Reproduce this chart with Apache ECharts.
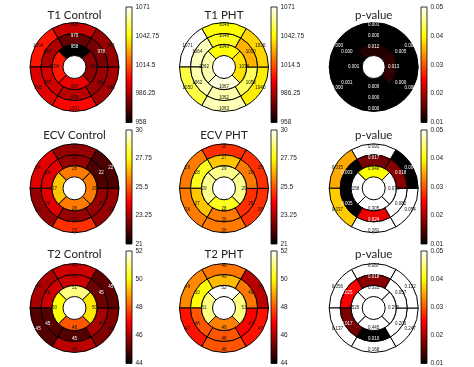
<!DOCTYPE html>
<html><head><meta charset="utf-8">
<script src="https://cdn.jsdelivr.net/npm/echarts@6/dist/echarts.min.js"></script>
<style>html,body{margin:0;padding:0;background:#fff}#c{width:474px;height:367px}</style>
</head><body><div id="c"></div>
<script>
// AHA 16-segment order:
// basal: anterior, anteroseptal, inferoseptal, inferior, inferolateral, anterolateral
// mid:   anterior, anteroseptal, inferoseptal, inferior, inferolateral, anterolateral
// apical: anterior, septal, inferior, lateral
const segNames = ['basal anterior','basal anteroseptal','basal inferoseptal','basal inferior','basal inferolateral','basal anterolateral',
  'mid anterior','mid anteroseptal','mid inferoseptal','mid inferior','mid inferolateral','mid anterolateral',
  'apical anterior','apical septal','apical inferior','apical lateral'];

const t1Control = [991, 1004, 995, 1001, 986, 983, 975, 987, 993, 989, 984, 978, 958, 1004, 997, 982];
const t1PHT     = [1043, 1071, 1050, 1063, 1040, 1036, 1046, 1064, 1062, 1062, 1053, 1030, 1043, 1062, 1067, 1038];
const t1P       = [0.001, 0.000, 0.000, 0.000, 0.000, 0.002, 0.000, 0.000, 0.001, 0.000, 0.000, 0.005, 0.012, 0.001, 0.000, 0.013];

const ecvControl = [23, 24, 23, 25, 23, 22, 23, 24, 24, 23, 23, 22, 26, 27, 26, 26];
const ecvPHT     = [25, 26, 26, 26, 25, 25, 27, 28, 27, 26, 25, 26, 29, 29, 28, 29];
const ecvP       = [0.091, 0.035, 0.037, 0.281, 0.054, 0.004, 0.017, 0.003, 0.005, 0.024, 0.082, 0.018, 0.040, 0.158, 0.305, 0.076];

const t2Control = [46.4, 46.0, 45.0, 46.2, 45.5, 45.1, 46.4, 46.4, 45.0, 45.0, 46.0, 45.3, 51, 50, 48, 49.7];
const t2PHT     = [48.4, 48.6, 47.2, 48.0, 47.2, 46.2, 49.2, 50.0, 48.0, 48.0, 47.0, 48.4, 52, 51, 48.5, 51];
const t2P       = [0.087, 0.056, 0.137, 0.168, 0.247, 0.152, 0.018, 0.025, 0.017, 0.010, 0.203, 0.057, 0.335, 0.526, 0.445, 0.290];

const t1Ticks  = [958, 986.25, 1014.5, 1042.75, 1071];
const ecvTicks = [21, 23.25, 25.5, 27.75, 30];
const t2Ticks  = [44, 46, 48, 50, 52];
const pTicks   = [0.01, 0.02, 0.03, 0.04, 0.05];

const panels = [
  {title:'T1 Control',  vals:t1Control,  ticks:t1Ticks,  p:false},
  {title:'T1 PHT',      vals:t1PHT,      ticks:t1Ticks,  p:false},
  {title:'p-value',     vals:t1P,        ticks:pTicks,   p:true},
  {title:'ECV Control', vals:ecvControl, ticks:ecvTicks, p:false},
  {title:'ECV PHT',     vals:ecvPHT,     ticks:ecvTicks, p:false},
  {title:'p-value',     vals:ecvP,       ticks:pTicks,   p:true},
  {title:'T2 Control',  vals:t2Control,  ticks:t2Ticks,  p:false},
  {title:'T2 PHT',      vals:t2PHT,      ticks:t2Ticks,  p:false},
  {title:'p-value',     vals:t2P,        ticks:pTicks,   p:true}
];

// layout (styles / positions)
const colCX = [74.5, 224, 373.7];
const rowCY = [67, 188.3, 308];
const titleY = [9.5, 129.5, 248.5];
const barLeft = [126, 271, 421];
const barTop = [7, 130, 251];
const barH = [115.5, 114, 116];
const ringDefs = [
  {from:0,  to:6,  r:[33.5, 44.5], start:60},
  {from:6,  to:12, r:[22.5, 33.5], start:60},
  {from:12, to:16, r:[11.5, 22.5], start:45}
];
const HOT = ['#000000','#550000','#aa0000','#ff0000','#ff5500','#ffaa00','#ffff00','#ffff80','#ffffff'];
const barGradient = {
  type: 'linear', x: 0, y: 0, x2: 0, y2: 1,
  colorStops: HOT.slice().reverse().map((c, k) => ({offset: k / (HOT.length - 1), color: c}))
};

const titles = [], datasets = [], series = [], vms = [], grids = [], xAxes = [], yAxes = [];

panels.forEach((pn, i) => {
  const row = Math.floor(i / 3), col = i % 3;
  const cx = colCX[col], cy = rowCY[row];
  const tmin = pn.ticks[0], tmax = pn.ticks[pn.ticks.length - 1];
  const interval = pn.ticks[1] - pn.ticks[0];
  const whiteBelow = pn.p ? 0.5 : 0.18;
  titles.push({
    text: pn.title, left: cx, top: titleY[row], textAlign: 'center', padding: 0,
    textStyle: {fontFamily: 'Lato', fontSize: 11.5, fontWeight: 'normal', color: '#222'}
  });
  const sIdx = [];
  ringDefs.forEach(rd => {
    const src = [];
    for (let k = rd.from; k < rd.to; k++) src.push([segNames[k], 1, pn.vals[k]]);
    datasets.push({source: src});
    sIdx.push(series.length);
    series.push({
      type: 'pie', datasetIndex: datasets.length - 1,
      encode: {itemName: 0, value: 1},
      center: [cx, cy], radius: rd.r, startAngle: rd.start, clockwise: false,
      silent: true, emphasis: {disabled: true},
      itemStyle: {borderColor: '#000', borderWidth: 1},
      label: {
        show: true, position: 'inside',
        formatter: prm => {
          const v = prm.value[2];
          const f = (v - tmin) / (tmax - tmin);
          const txt = pn.p ? v.toFixed(3) : String(Math.round(v));
          return (f < whiteBelow ? '{w|' : '{k|') + txt + '}';
        },
        rich: {
          w: {color: '#fff', fontSize: 4.5, fontFamily: 'Liberation Sans'},
          k: {color: '#111', fontSize: 4.5, fontFamily: 'Liberation Sans'}
        }
      },
      labelLine: {show: false}
    });
  });
  vms.push({
    type: 'continuous', show: false, min: tmin, max: tmax, dimension: 2, seriesIndex: sIdx,
    inRange: {color: HOT}
  });
  grids.push({
    left: barLeft[col], top: barTop[row], width: 6, height: barH[row],
    show: true, borderColor: '#000', borderWidth: 0.8, backgroundColor: barGradient, z: 10
  });
  xAxes.push({gridIndex: i, type: 'value', show: false, min: 0, max: 1});
  yAxes.push({
    gridIndex: i, type: 'value', position: 'right', min: tmin, max: tmax, interval: interval,
    axisLine: {show: false}, axisTick: {show: false}, splitLine: {show: false},
    axisLabel: {fontSize: 6.5, color: '#222', margin: 3.5, fontFamily: 'Liberation Sans',
      formatter: v => String(parseFloat(v.toFixed(4)))}
  });
});

const chart = echarts.init(document.getElementById('c'), null, {renderer: 'canvas'});
chart.setOption({
  animation: false, backgroundColor: '#fff',
  title: titles, dataset: datasets, visualMap: vms,
  grid: grids, xAxis: xAxes, yAxis: yAxes, series: series
});
</script></body></html>
